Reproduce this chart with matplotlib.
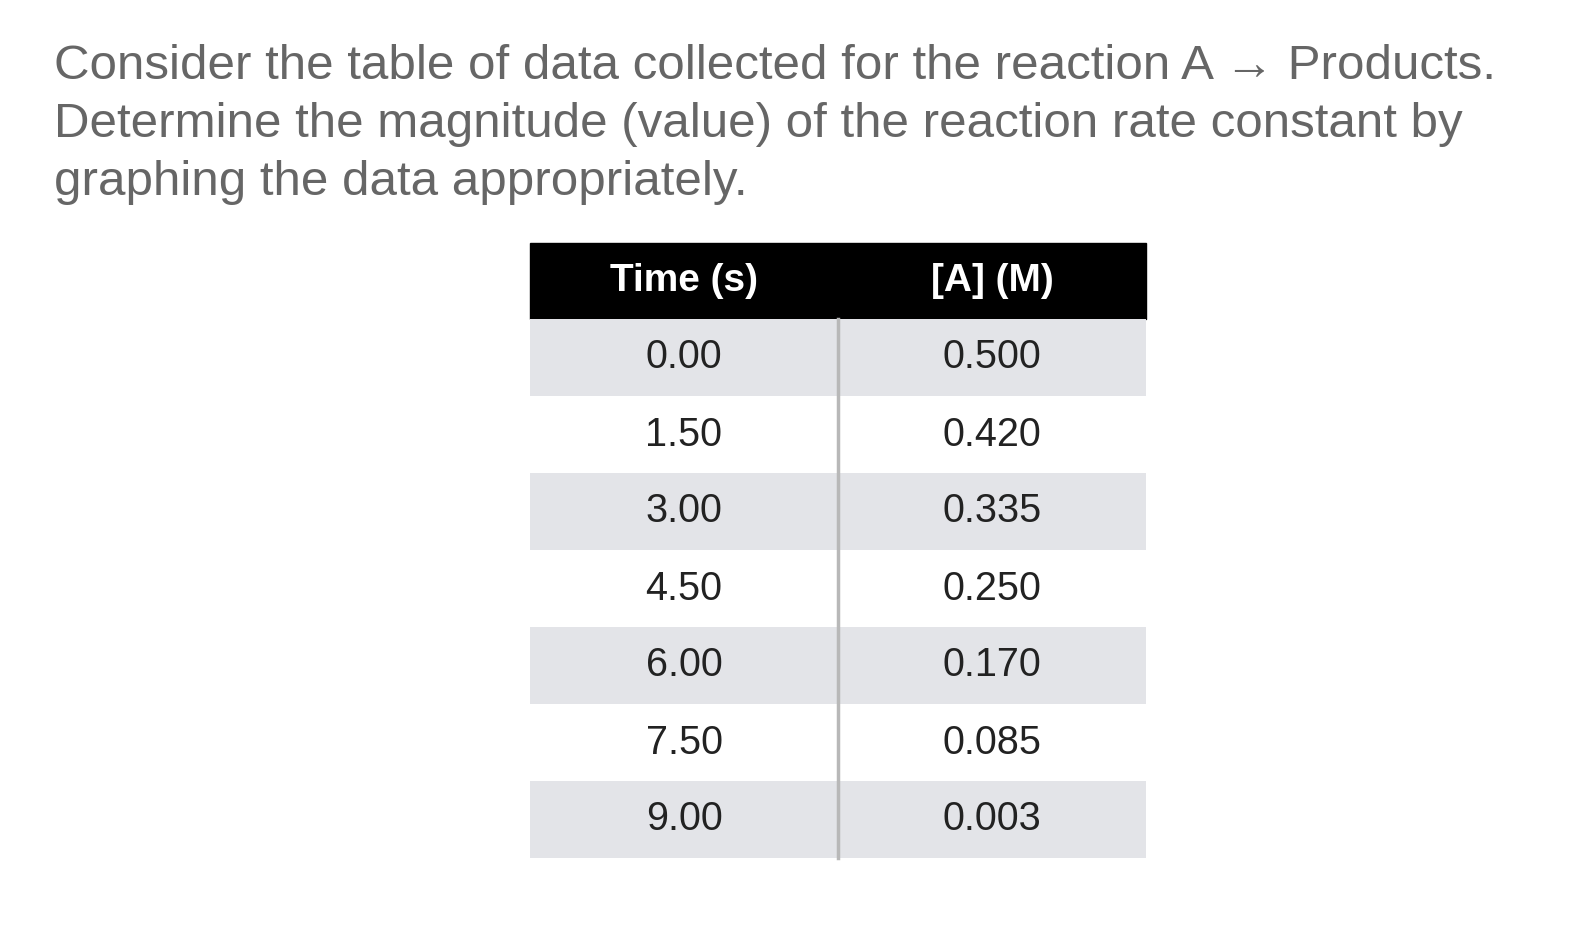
import matplotlib
matplotlib.use("Agg")
import matplotlib.pyplot as plt
from matplotlib.patches import Rectangle

title_lines = ["Consider the table of data collected for the reaction A \u2192 Products.",
               "Determine the magnitude (value) of the reaction rate constant by",
               "graphing the data appropriately."]
headers = ["Time (s)", "[A] (M)"]
times = ["0.00", "1.50", "3.00", "4.50", "6.00", "7.50", "9.00"]
conc = ["0.500", "0.420", "0.335", "0.250", "0.170", "0.085", "0.003"]

W, H = 1592, 944
fig = plt.figure(figsize=(W/100, H/100), dpi=100)
ax = fig.add_axes([0, 0, 1, 1])
ax.set_xlim(0, W); ax.set_ylim(H, 0); ax.axis("off")

font = "Liberation Sans"
for i, line in enumerate(title_lines):
    ax.text(54, 79 + 58*i, line, fontsize=35.5, color="#666666", family=font, va="baseline")

x0, xm, x1 = 530, 838, 1146
hy0, hy1 = 243, 319
rh = (858 - 319) / len(times)
ax.add_patch(Rectangle((x0, hy0), x1-x0, hy1-hy0, color="black"))
for j, h in enumerate(headers):
    cx = (x0+xm)/2 if j == 0 else (xm+x1)/2
    ax.text(cx, (hy0+hy1)/2, h, fontsize=28, color="white", weight="bold",
            family=font, ha="center", va="center")
for i, (t, c) in enumerate(zip(times, conc)):
    y = hy1 + i*rh
    if i % 2 == 0:
        ax.add_patch(Rectangle((x0, y), x1-x0, rh, color="#e3e4e8", lw=0))
    ax.text((x0+xm)/2, y+rh/2, t, fontsize=28.5, color="#222222", family=font, ha="center", va="center")
    ax.text((xm+x1)/2, y+rh/2, c, fontsize=28.5, color="#222222", family=font, ha="center", va="center")
ax.plot([xm, xm], [hy1, 858], color="#b8b8b8", lw=2.5)

fig.savefig("out.png", dpi=100)
